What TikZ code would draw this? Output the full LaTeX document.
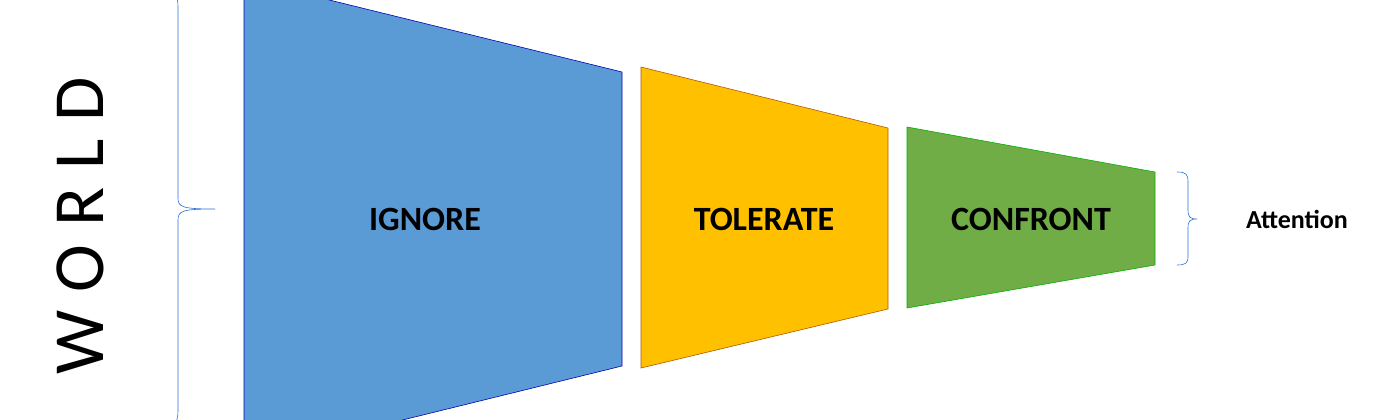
\documentclass[tikz,border=0pt]{standalone}
\usepackage{fontspec}
\setmainfont{Carlito}
\begin{document}
\begin{tikzpicture}[x=1pt,y=-1pt,
  seg/.style={draw=#1!70!black,line width=0.6pt},
  lab/.style={font=\fontsize{34}{40}\selectfont\bfseries,text=black},
  brace/.style={draw=blue!60!cyan!70!gray,line width=0.6pt}]
\useasboundingbox (0,0) rectangle (1400,420);
\begin{scope}
\clip (0,0) rectangle (1400,420);
\fill[fill={rgb,255:red,91;green,155;blue,213},seg=blue] (244,-21) -- (622,72) -- (622,366) -- (244,459) -- cycle;
\fill[fill={rgb,255:red,255;green,192;blue,0},seg=orange] (641,67) -- (888,128) -- (888,309) -- (641,368) -- cycle;
\fill[fill={rgb,255:red,112;green,173;blue,71},seg=green] (907,127) -- (1155,172) -- (1155,265) -- (907,308) -- cycle;
\draw[brace] (170,-5) .. controls (178,-5) and (178,0) .. (178,10) -- (178,198) .. controls (178,207) and (182,209) .. (215,209)
  (215,209) .. controls (182,209) and (178,211) .. (178,220) -- (178,410) .. controls (178,420) and (176,425) .. (170,425);
\draw[brace] (1177,172) .. controls (1186,172) and (1188,174) .. (1188,182) -- (1188,210) .. controls (1188,217) and (1190,219) .. (1197,219)
  .. controls (1190,219) and (1188,221) .. (1188,228) -- (1188,256) .. controls (1188,263) and (1186,265) .. (1177,265);
\end{scope}
\node[lab] (ig) at (425,219) {IGNORE};
\node[lab] (to) at (764,219) {TOLERATE};
\node[lab] (co) at (1031,219) {CONFRONT};
\node[font=\fontsize{26}{30}\selectfont\bfseries] (att) at (1297,219) {Attention};
\node[rotate=90,font=\fontsize{72}{80}\selectfont] (w) at (80,226) {W\hspace{18pt}O\hspace{18pt}R\hspace{18pt}L\hspace{18pt}D};
\end{tikzpicture}
\end{document}
